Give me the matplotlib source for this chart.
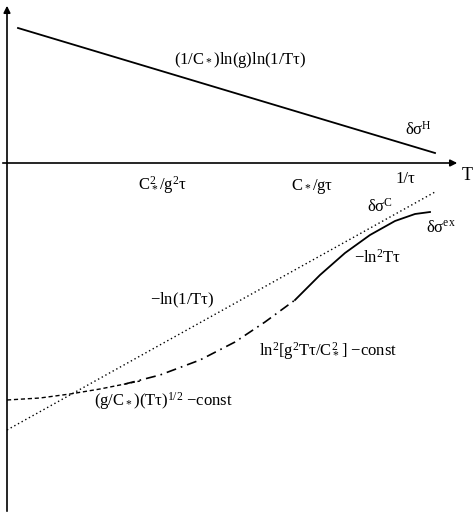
import numpy as np
import matplotlib.pyplot as plt

plt.rcParams['font.family'] = ['Liberation Serif', 'DejaVu Serif']
plt.rcParams['mathtext.fontset'] = 'custom'
plt.rcParams['mathtext.rm'] = 'Liberation Serif'
plt.rcParams['mathtext.it'] = 'Liberation Serif'
plt.rcParams['mathtext.default'] = 'rm'

# schematic curves, in picture coordinates (x right, y down)
top_x = [18, 435]
top_y = [28, 153]
dotted_x = [7, 435]
dotted_y = [430, 192]
dashed_x = [7, 40, 70, 100, 125, 140]
dashed_y = [400, 398, 394, 389, 384, 381]
dashdot_x = [125, 160, 200, 235, 265, 295]
dashdot_y = [384, 375, 360, 342, 322, 300]
solid_x = [295, 320, 345, 370, 395, 415, 430]
solid_y = [300, 275, 253, 235, 221, 214, 212]

fig = plt.figure(figsize=(4.74, 5.14), dpi=100)
ax = fig.add_axes([0, 0, 1, 1])
ax.set_xlim(0, 474)
ax.set_ylim(514, 0)
ax.axis('off')

# axes arrows
ax.annotate('', xy=(7, 3), xytext=(7, 514),
            arrowprops=dict(arrowstyle='-|>', color='k', lw=1.2))
ax.annotate('', xy=(460, 163), xytext=(0, 163),
            arrowprops=dict(arrowstyle='-|>', color='k', lw=1.2))
ax.text(467, 176, 'T', fontsize=13, ha='center', va='center')

ax.plot(top_x, top_y, color='k', lw=1.3)
ax.plot(dotted_x, dotted_y, color='k', lw=1, ls=(0, (1, 2)))
ax.plot(dashed_x, dashed_y, color='k', lw=1, ls=(0, (3, 2)))
ax.plot(dashdot_x, dashdot_y, color='k', lw=1.2, ls=(0, (6, 3, 1, 3)))
ax.plot(solid_x, solid_y, color='k', lw=1.3)

fs = 12
ax.text(240, 60, r'(1/C$_*$)ln(g)ln(1/Tτ)', fontsize=fs, ha='center', va='center')
ax.text(418, 130, r'δσ$^{\rm H}$', fontsize=fs, ha='center', va='center')
ax.text(162, 186, r'C$_*^2$/g$^2$τ', fontsize=fs, ha='center', va='center')
ax.text(312, 186, r'C$_*$/gτ', fontsize=fs, ha='center', va='center')
ax.text(405, 179, '1/τ', fontsize=fs, ha='center', va='center')
ax.text(380, 207, r'δσ$^{\rm C}$', fontsize=fs, ha='center', va='center')
ax.text(441, 228, r'δσ$^{\rm ex}$', fontsize=fs, ha='center', va='center')
ax.text(378, 258, r'$-$ln$^2$Tτ', fontsize=fs, ha='center', va='center')
ax.text(182, 300, r'$-$ln(1/Tτ)', fontsize=fs, ha='center', va='center')
ax.text(328, 352, r'ln$^2$[g$^2$Tτ/C$_*^2$] $-$const', fontsize=fs, ha='center', va='center')
ax.text(163, 401, r'(g/C$_*$)(Tτ)$^{1/2}$ $-$const', fontsize=fs, ha='center', va='center')

fig.savefig('out.png', dpi=100)
